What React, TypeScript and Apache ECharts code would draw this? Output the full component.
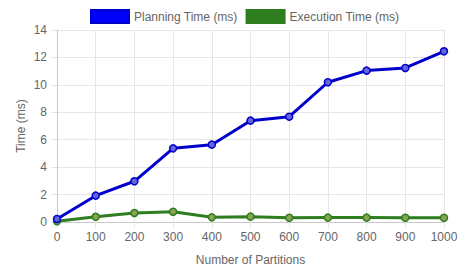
import React, { useEffect, useRef } from "react";
import * as echarts from "echarts";

const partitions = [0, 100, 200, 300, 400, 500, 600, 700, 800, 900, 1000];
const planningTime = [0.22, 1.92, 2.97, 5.37, 5.64, 7.39, 7.68, 10.19, 11.04, 11.23, 12.45];
const executionTime = [0.05, 0.38, 0.66, 0.75, 0.34, 0.39, 0.31, 0.32, 0.32, 0.31, 0.31];
const seriesNames = ["Planning Time (ms)", "Execution Time (ms)"];

const FONT = "'Liberation Sans', Arial, Helvetica, sans-serif";

export default function App() {
  const ref = useRef<HTMLDivElement>(null);
  useEffect(() => {
    if (!ref.current) return;
    const chart = echarts.init(ref.current, undefined, { renderer: "svg" });
    const gridColor = "#e6e6e6";
    chart.setOption({
      animation: false,
      textStyle: { fontFamily: FONT },
      legend: {
        top: 9,
        left: 90,
        padding: 0,
        icon: "rect",
        itemWidth: 38,
        itemHeight: 13,
        itemGap: 8,
        textStyle: { color: "#666", fontSize: 12, fontFamily: FONT },
        data: [
          { name: seriesNames[0], itemStyle: { color: "#0000ff" } },
          { name: seriesNames[1], itemStyle: { color: "#2e7d1e" } },
        ],
      },
      grid: { left: 57, right: 30, top: 30, bottom: 55, containLabel: false },
      xAxis: {
        type: "value",
        min: 0,
        max: 1000,
        interval: 100,
        name: "Number of Partitions",
        nameLocation: "middle",
        nameGap: 32,
        nameMoveOverlap: false,
        nameTextStyle: { color: "#666", fontSize: 12, fontFamily: FONT },
        axisLine: { show: true, lineStyle: { color: "#c8c8c8", width: 1 } },
        axisTick: { show: true, length: 6, lineStyle: { color: gridColor } },
        axisLabel: {
          color: "#666",
          fontSize: 12,
          margin: 9,
          fontFamily: FONT,
          formatter: (v: number) => String(v),
        },
        splitLine: { show: true, lineStyle: { color: gridColor } },
      },
      yAxis: {
        type: "value",
        min: 0,
        max: 14,
        interval: 2,
        name: "Time (ms)",
        nameLocation: "middle",
        nameGap: 30,
        nameMoveOverlap: false,
        nameRotate: 90,
        nameTextStyle: { color: "#666", fontSize: 12, fontFamily: FONT },
        axisLine: { show: true, lineStyle: { color: "#c8c8c8", width: 1 } },
        axisTick: { show: true, length: 6, lineStyle: { color: gridColor } },
        axisLabel: { color: "#666", fontSize: 12, margin: 10, fontFamily: FONT },
        splitLine: { show: true, lineStyle: { color: gridColor } },
      },
      series: [
        {
          name: seriesNames[0],
          type: "line",
          data: partitions.map((p, i) => [p, planningTime[i]]),
          symbol: "circle",
          symbolSize: 7,
          lineStyle: { color: "#0000cc", width: 3 },
          itemStyle: { color: "#6464dc", borderColor: "#0000cc", borderWidth: 1.5 },
          z: 3,
        },
        {
          name: seriesNames[1],
          type: "line",
          data: partitions.map((p, i) => [p, executionTime[i]]),
          symbol: "circle",
          symbolSize: 7,
          lineStyle: { color: "#2e7d1e", width: 3 },
          itemStyle: { color: "#86a452", borderColor: "#2e7d1e", borderWidth: 1.5 },
          z: 2,
        },
      ],
    });
    return () => chart.dispose();
  }, []);
  return <div ref={ref} style={{ width: 474, height: 277, margin: -8 }} />;
}
